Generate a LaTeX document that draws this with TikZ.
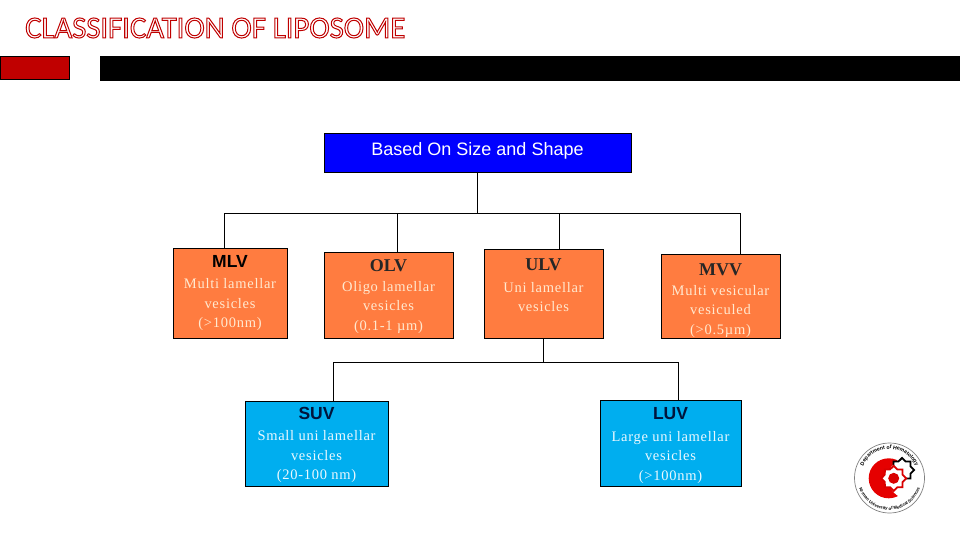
\documentclass[tikz,border=0pt]{standalone}
\usepackage{fontspec}
\setmainfont{Liberation Serif}
\setsansfont{Liberation Sans}
\newfontfamily\titlefont{Carlito}
\newfontfamily\bodyfont[LetterSpace=5]{Liberation Serif}
\usetikzlibrary{positioning,calc,shapes.geometric,decorations.text}
\definecolor{BarRed}{RGB}{192,0,0}
\definecolor{BoxOrange}{RGB}{255,124,64}
\definecolor{BoxBlue}{RGB}{0,174,239}
\definecolor{RootBlue}{RGB}{0,0,255}
\definecolor{BodyCream}{RGB}{255,233,208}
\definecolor{BodyPale}{RGB}{235,248,255}
\definecolor{HeadNavy}{RGB}{0,20,60}
\tikzset{
  obox/.style={draw=black,fill=BoxOrange,line width=0.8pt,align=center,outer sep=0pt,
               inner sep=0pt,text=BodyCream,font=\bodyfont\fontsize{14.5}{19.5}\selectfont},
  bbox/.style={draw=black,fill=BoxBlue,line width=0.8pt,align=center,outer sep=0pt,
               inner sep=0pt,text=BodyPale,font=\bodyfont\fontsize{14.5}{19.5}\selectfont},
  rbox/.style={draw=black,fill=RootBlue,line width=0.8pt,align=center,inner sep=0pt,outer sep=0pt,
               text=white,font=\sffamily\fontsize{18}{20}\selectfont},
  conn/.style={draw=black,line width=0.9pt},
  ttl/.style={font=\titlefont\fontsize{30.7}{31}\selectfont,anchor=west,inner sep=0pt},
}
\newcommand{\sanshead}[2]{{\sffamily\bfseries\fontsize{17.5}{19.5}\selectfont\textcolor{#1}{#2}}}
\newcommand{\serifhead}[1]{{\rmfamily\bfseries\fontsize{18}{19.5}\selectfont\textcolor{black!85}{#1}}}
\newcommand{\headgap}[1]{\rule{0pt}{#1pt}}
\begin{document}
\begin{tikzpicture}[x=1pt,y=-1pt]
  \useasboundingbox (0,0) rectangle (960,540);
  % heading and bars
  \node[ttl] (title) at (25,28) {\special{pdf:code 1 Tr 1 w 0.75 0 0 RG}CLASSIFICATION OF LIPOSOME\special{pdf:code 0 Tr}};
  \fill[black] (100,56) rectangle (960,81);
  \draw[fill=BarRed,line width=0.6pt] (0.5,56.5) rectangle (69.5,79.5);
  % boxes
  \node[rbox,minimum width=307pt,minimum height=39pt,text depth=8pt] (root) at (477.5,152.5) {Based On Size and Shape};
  \node[obox,minimum width=114pt,minimum height=90pt,text depth=3pt] (mlv) at (230,293) {\sanshead{black}{MLV}\\[2pt]Multi lamellar\\vesicles\\(>100nm)};
  \node[obox,minimum width=129pt,minimum height=86pt,right=37pt of mlv.south east,anchor=south west] (olv) {\headgap{15}\serifhead{OLV}\\Oligo lamellar\\vesicles\\(0.1-1 µm)};
  \node[obox,minimum width=119pt,minimum height=89pt,right=31pt of olv.south east,anchor=south west] (ulv) {\headgap{15}\serifhead{ULV}\\[2pt]Uni lamellar\\vesicles\\\mbox{}};
  \node[obox,minimum width=119pt,minimum height=84pt,right=58pt of ulv.south east,anchor=south west] (mvv) {\headgap{21}\serifhead{MVV}\\Multi vesicular\\vesiculed\\(>0.5µm)};
  \node[bbox,minimum width=143pt,minimum height=85pt] (suv) at (316.5,443.5) {\headgap{15}\sanshead{HeadNavy}{SUV}\\[2pt]Small uni lamellar\\vesicles\\(20-100 nm)};
  \node[bbox,minimum width=141pt,minimum height=86pt,right=212pt of suv.south east,anchor=south west] (luv) {\headgap{17}\sanshead{HeadNavy}{LUV}\\[2pt]Large uni lamellar\\vesicles\\(>100nm)};
  % connectors
  \coordinate (bus) at (477.5,213.5);
  \coordinate (lowbus) at (543.5,362);
  \draw[conn] (root.south) -- (bus);
  \draw[conn] ([xshift=-6pt]mlv.north) |- (bus);
  \draw[conn] ([xshift=8.5pt]olv.north) -- ([xshift=8.5pt]olv.north |- bus);
  \draw[conn] ([xshift=16pt]ulv.north) -- ([xshift=16pt]ulv.north |- bus);
  \draw[conn] ([xshift=20pt]mvv.north) |- (bus);
  \draw[conn] (ulv.south) -- (lowbus);
  \draw[conn] ([xshift=16.5pt]suv.north) |- (lowbus);
  \draw[conn] ([xshift=7.5pt]luv.north) |- (lowbus);
  % logo
  \fill[red!90!black] (888.7,478.3) circle (20);
  \fill[white] (909,478) circle (21);
  \draw[black!50,line width=0.7pt] (889.5,478) circle (35);
  \node[star,star points=8,star point ratio=1.3,minimum size=24pt,inner sep=0pt,fill=white,draw=black,line width=1.8pt] (stara) at (902,470) {};
  \node[star,star points=8,star point ratio=1.3,minimum size=25pt,inner sep=0pt,fill=white,draw=red!85!black,line width=1.8pt] (starb) at (893.7,478.3) {};
  \fill[red!85!black] (893.7,478.3) circle (5.5);
  \path[postaction={decorate,decoration={text along path,text align=center,
        text={|\sffamily\bfseries\fontsize{5.2}{6}\selectfont|Department of Hematology}}}]
    (860.5,478) arc[start angle=180,end angle=360,radius=29];
  \path[postaction={decorate,decoration={text along path,text align=center,
        text={|\sffamily\bfseries\fontsize{4.3}{6}\selectfont|Kerman University of Medical Sciences}}}]
    (857.5,478) arc[start angle=180,end angle=0,radius=32];
\end{tikzpicture}
\end{document}
